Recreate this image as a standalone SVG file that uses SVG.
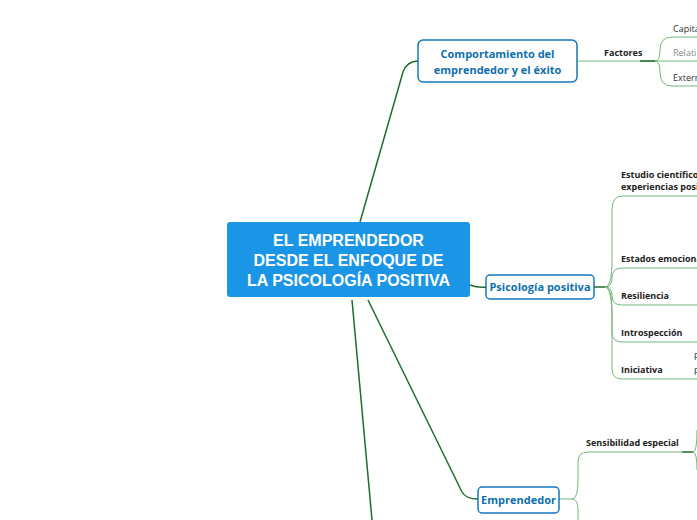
<svg xmlns="http://www.w3.org/2000/svg" width="697" height="520" viewBox="0 0 697 520">
<style>
.main{fill:none;stroke:#1e6e2a;stroke-width:1.5}
.sub{fill:none;stroke:#74b67c;stroke-width:1}
.node{fill:#fff;stroke:#1478bb;stroke-width:1.5}
.nt{font-family:"Open Sans","Noto Sans",sans-serif;font-weight:bold;font-size:11px;fill:#0e6fae;text-anchor:middle}
.lt{font-family:"Open Sans","Noto Sans",sans-serif;font-weight:bold;font-size:9px;fill:#222}
.gt{font-family:"Open Sans","Noto Sans",sans-serif;font-size:9px;fill:#333}
</style>
<rect width="697" height="520" fill="#fff"/>
<g id="connectors">
<path class="main" d="M360,222 L403,72 Q407,61 418,61"/>
<path class="main" d="M470,285 Q478,288 486,287"/>
<path class="main" d="M368,300 L462,492 Q466,499 478,499"/>
<path class="main" d="M352,300 L372,520"/>
<path class="sub" d="M577,61 L655,61"/>
<path class="main" d="M640,61 L655,61"/>
<path class="sub" d="M655,61 Q660,61 660,50 Q660,37 672,37 L697,37 M655,61 L697,61 M655,61 Q660,61 660,72 Q660,86 672,86 L697,86"/>
<path class="main" d="M594,287 L605,287"/>
<path class="sub" d="M605,287 Q612,287 612,260 L612,210 Q612,196 622,196 L697,196"/>
<path class="sub" d="M605,287 Q612,287 612,278 Q612,268 622,268 L697,268"/>
<path class="sub" d="M605,287 Q612,287 612,296 Q612,305 622,305 L697,305"/>
<path class="sub" d="M605,287 Q612,287 612,310 L612,332 Q612,342 622,342 L697,342"/>
<path class="sub" d="M605,287 Q612,287 612,320 L612,369 Q612,379 622,379 L697,379"/>
<path class="sub" d="M559,499 L572,499"/>
<path class="sub" d="M572,499 Q578,499 578,480 L578,462 Q578,452 588,452 L682,452"/>
<path class="main" d="M682,452 L693,452"/>
<path class="sub" d="M693,452 Q697,452 697,430 M693,452 Q697,452 697,470"/>
<path class="sub" d="M572,499 Q578,499 578,510 L578,520"/>
</g>
<g id="center">
<rect x="227" y="222" width="243" height="75" rx="3" fill="#1b95e6"/>
<text font-family="Liberation Sans,Arial,sans-serif" font-weight="bold" font-size="16" fill="#fff" text-anchor="middle"><tspan x="348.5" y="246">EL EMPRENDEDOR</tspan><tspan x="348.5" y="266">DESDE EL ENFOQUE DE</tspan><tspan x="348.5" y="286">LA PSICOLOGÍA POSITIVA</tspan></text>
</g>
<g id="comportamiento">
<rect class="node" x="418" y="40" width="159" height="42" rx="5"/>
<text class="nt"><tspan x="497.5" y="58">Comportamiento del</tspan><tspan x="497.5" y="74">emprendedor y el éxito</tspan></text>
</g>
<g id="factores"><text class="lt" x="604" y="56">Factores</text></g>
<g id="capita"><text class="gt" x="673" y="32">Capita</text></g>
<g id="relati"><text class="gt" x="673" y="56" fill="#888" style="fill:#888">Relati</text></g>
<g id="extern"><text class="gt" x="673" y="81">Extern</text></g>
<g id="psicologia">
<rect class="node" x="486" y="275" width="108" height="24" rx="4"/>
<text class="nt" x="540" y="291">Psicología positiva</text>
</g>
<g id="estudio"><text class="lt"><tspan x="621" y="178">Estudio científico</tspan><tspan x="621" y="190">experiencias posi</tspan></text></g>
<g id="estados"><text class="lt" x="621" y="262">Estados emociona</text></g>
<g id="resiliencia"><text class="lt" x="621" y="299">Resiliencia</text></g>
<g id="introspeccion"><text class="lt" x="621" y="336">Introspección</text></g>
<g id="iniciativa"><text class="lt" x="621" y="373">Iniciativa</text>
<text class="gt" x="694" y="358">p</text><text class="gt" x="694" y="373">p</text></g>
<g id="emprendedor">
<rect class="node" x="478" y="487" width="81" height="26" rx="4"/>
<text class="nt" x="518.5" y="504">Emprendedor</text>
</g>
<g id="sensibilidad"><text class="lt" x="586" y="446">Sensibilidad especial</text></g>
</svg>
